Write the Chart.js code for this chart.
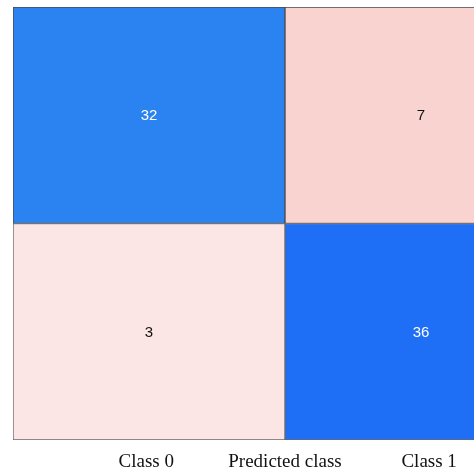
<!DOCTYPE html>
<html>
<head>
<meta charset="utf-8">
<script src="https://cdn.jsdelivr.net/npm/chart.js@4"></script>
<style>
  html, body { margin:0; padding:0; background:#fff; overflow:hidden; }
  #wrap { width:560px; height:474px; }
</style>
</head>
<body>
<div id="wrap"><canvas id="cm" width="560" height="474"></canvas></div>
<script>
// predicted classes (columns)
const classes = ['Class 0', 'Class 1'];
// counts per row, top row first
const rowTop = [32, 7];
const rowBottom = [3, 36];
// bottom axis labels
const axisLabels = ['Class 0', 'Predicted class', 'Class 1'];
const axisTickValues = [0.49, 1.0, 1.53];

// cell styles
const topColors = ['#2b83f1', '#f8d3cf'];
const bottomColors = ['#fce5e5', '#1f6ef6'];
const topText = ['#ffffff', '#111111'];
const bottomText = ['#111111', '#ffffff'];

const cellLabels = {
  id: 'cellLabels',
  afterDatasetsDraw(chart) {
    const ctx = chart.ctx;
    ctx.save();
    ctx.font = '15px "Liberation Sans", Arial, sans-serif';
    ctx.textAlign = 'center';
    ctx.textBaseline = 'middle';
    chart.data.datasets.forEach((ds, di) => {
      chart.getDatasetMeta(di).data.forEach((bar, i) => {
        const p = bar.getProps(['x', 'y', 'base'], true);
        ctx.fillStyle = ds.textColors[i];
        ctx.fillText(String(ds.counts[i]), p.x, (p.y + p.base) / 2 + 1);
      });
    });
    ctx.restore();
  }
};

new Chart(document.getElementById('cm'), {
  type: 'bar',
  data: {
    labels: classes,
    datasets: [
      { label: 'top', data: classes.map(() => [1, 2]), counts: rowTop, textColors: topText,
        backgroundColor: topColors, borderColor: '#4a4a4a', borderWidth: 1, borderSkipped: false },
      { label: 'bottom', data: classes.map(() => [0, 1]), counts: rowBottom, textColors: bottomText,
        backgroundColor: bottomColors, borderColor: '#6a6a6a', borderWidth: 1, borderSkipped: false }
    ]
  },
  options: {
    responsive: false,
    animation: false,
    layout: { padding: { left: 13, right: 3, top: 7, bottom: 0 } },
    datasets: { bar: { categoryPercentage: 1, barPercentage: 1, grouped: false } },
    plugins: { legend: { display: false }, tooltip: { enabled: false } },
    scales: {
      x: { display: false },
      y: { display: false, min: 0, max: 2 },
      x2: {
        type: 'linear', position: 'bottom', min: 0, max: 2, offset: false,
        border: { display: false },
        grid: { display: false, drawTicks: false, offset: false },
        afterBuildTicks: axis => { axis.ticks = axisTickValues.map(v => ({ value: v })); },
        afterFit: axis => { axis.height = 34; },
        ticks: {
          padding: 11,
          autoSkip: false,
          maxRotation: 0,
          color: '#111',
          font: { family: '"Liberation Serif", "Times New Roman", serif', size: 19 },
          callback: (v, i) => axisLabels[i]
        }
      }
    }
  },
  plugins: [cellLabels]
});
</script>
</body>
</html>
